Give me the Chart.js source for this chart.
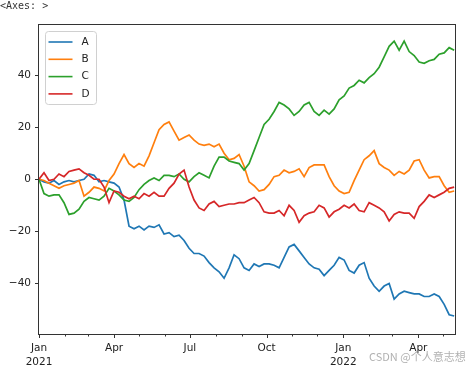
<!DOCTYPE html>
<html>
<head>
<meta charset="utf-8">
<script src="https://cdn.jsdelivr.net/npm/chart.js@4.4.1/dist/chart.umd.min.js"></script>
<style>
    body { margin: 0; background: #fff; }
    #wrap { position: relative; width: 474px; height: 368px; }
    #axesLabel { position: absolute; left: 0; top: 0; font: 10px "DejaVu Sans Mono", monospace; color: #333; white-space: pre; }
    #mark { position: absolute; left: 369px; top: 348px; font: 11px "Noto Sans CJK SC", sans-serif; color: rgba(150, 150, 150, 0.75); white-space: nowrap; }
</style>
</head>
<body>
<div id="wrap">
    <canvas id="walkChart" width="474" height="368"></canvas>
    <div id="axesLabel">&lt;Axes: &gt;</div>
    <div id="mark">CSDN @个人意志想</div>
</div>
<script>
// data, one value every 6 days from 2021-01-01
const seriesNames = ['A', 'B', 'C', 'D'];
const seriesColors = ['#1f77b4', '#ff7f0e', '#2ca02c', '#d62728'];

const seriesA = [
    0, -1, -1.5, -0.5, -2, -1, -0.5, -1, -0.5, 0,
    2, 1.5, -1, -0.5, -1, -1.5, -3, -8, -18, -19,
    -18, -19.5, -18, -18.5, -17.5, -21, -20.5, -22, -21.5, -23.5,
    -26.5, -28.5, -28.5, -29.5, -32, -34, -35.5, -38, -34, -29,
    -30.5, -34, -35, -32.5, -33.5, -32.5, -32.5, -33, -34, -30,
    -26, -25, -27.5, -30, -32.5, -34, -34.5, -37, -35, -33,
    -30, -31, -35, -36, -33, -32, -38, -41, -43, -41,
    -40, -46, -44, -43, -43.5, -44, -44, -45, -45, -44,
    -45, -48, -52, -52.5
];
const seriesB = [
    0, -0.5, -1.5, -2.5, -3.5, -2.5, -2, -1.5, -0.5, -6.5,
    -5, -3, -3.5, -4.5, -0.5, 2, 6, 9.5, 6, 4.5,
    6, 5, 9, 14, 19, 21, 22, 18.5, 15, 16,
    17, 15, 13.5, 13, 13.5, 12.5, 13.5, 10, 7.5, 8,
    9.5, 5, -1, -2.5, -4.5, -4, -2, 1, 1.5, 3.5,
    2.5, 3, 4, 1, 4.5, 5.5, 5.5, 5.5, 1, -2.5,
    -4.5, -5.5, -5, -0.5, 3.5, 7.5, 9, 11, 6, 4.5,
    3.5, 1.5, 3, 2, 3.5, 7, 7.5, 3.5, 0.5, 1,
    1, -2.5, -5, -4.5
];
const seriesC = [
    0, -5.5, -6.5, -6, -6, -9, -13.5, -13, -11.5, -8.5,
    -7, -7.5, -8, -6.5, -3.5, -4.5, -6, -8, -8.5, -7,
    -4, -2, -0.5, 0.5, -0.5, 1.5, 1.5, 1, 2, 0,
    -1, 1, 2.5, 1.5, 0.5, 5, 8.5, 8.5, 7, 6.5,
    6, 3.5, 6, 11, 16, 21, 23, 26, 29.5, 28.5,
    27, 24.5, 26, 28.5, 29.5, 26, 24.5, 26.5, 25, 27,
    30.5, 32, 35, 36, 38, 37, 39, 40.5, 43, 47,
    51, 53, 49.5, 53, 49, 47.5, 45, 44.5, 45.5, 46,
    48, 48.5, 50.5, 49.5
];
const seriesD = [
    0, 2.5, -0.5, 0, 2, 1, 3, 3.5, 4, 2.5,
    1.5, 0, 0, -3, -9, -4.5, -5, -6.5, -7.5, -6.5,
    -7.5, -5.5, -6.5, -5, -6.5, -6.5, -3.5, -1.5, 2, 3.5,
    -3, -8, -11, -12, -9.5, -8.5, -10.5, -10, -9.5, -9.5,
    -9, -9, -8, -7, -9, -12.5, -13, -13, -12, -14,
    -10, -12, -16.5, -14, -13, -12.5, -10, -11, -14.5, -12.5,
    -11.5, -10, -11, -9.5, -12, -12.5, -9, -10, -11, -12.5,
    -16, -13.5, -12.5, -13, -13, -15, -10.5, -8.5, -6, -7,
    -6, -5, -3.5, -3
];
const dayStep = 6;
const lastDay = 499;

// month ticks (days since 2021-01-01)
const majorTickDays = [0, 90, 181, 273, 365, 455];
const majorTickLabels = [['Jan', '2021'], 'Apr', 'Jul', 'Oct', ['Jan', '2022'], 'Apr'];
const minorTickDays = [31, 59, 120, 151, 212, 243, 304, 334, 396, 424, 485];
const yTickValues = [-40, -20, 0, 20, 40];

const allSeries = [seriesA, seriesB, seriesC, seriesD];

// خط و چوارچێوە و لیجێند
const framePlugin = {
    id: 'frameAndLegend',
    afterDraw(chart) {
        const ctx = chart.ctx;
        const area = chart.chartArea;
        const xs = chart.scales.x;
        const ys = chart.scales.y;
        ctx.save();
        ctx.strokeStyle = '#333';
        ctx.lineWidth = 1;
        ctx.strokeRect(area.left - 0.5, area.top - 0.5, area.right - area.left + 1, area.bottom - area.top + 1);

        ctx.beginPath();
        majorTickDays.forEach(d => {
            const px = Math.round(xs.getPixelForValue(d)) + 0.5;
            ctx.moveTo(px, area.bottom);
            ctx.lineTo(px, area.bottom + 4);
        });
        minorTickDays.forEach(d => {
            const px = Math.round(xs.getPixelForValue(d)) + 0.5;
            ctx.moveTo(px, area.bottom);
            ctx.lineTo(px, area.bottom + 2.5);
        });
        yTickValues.forEach(v => {
            const py = Math.round(ys.getPixelForValue(v)) + 0.5;
            ctx.moveTo(area.left - 4, py);
            ctx.lineTo(area.left, py);
        });
        ctx.stroke();

        // legend box
        const bx = area.left + 6, by = area.top + 6, bw = 51, bh = 73;
        ctx.fillStyle = 'rgba(255,255,255,0.8)';
        ctx.strokeStyle = '#d0d0d0';
        ctx.beginPath();
        ctx.roundRect(bx + 0.5, by + 0.5, bw, bh, 3);
        ctx.fill();
        ctx.stroke();
        ctx.font = '10.5px "DejaVu Sans"';
        ctx.textBaseline = 'middle';
        seriesNames.forEach((name, i) => {
            const ly = by + 11 + i * 17.3;
            ctx.strokeStyle = seriesColors[i];
            ctx.lineWidth = 1.6;
            ctx.beginPath();
            ctx.moveTo(bx + 3.5, ly);
            ctx.lineTo(bx + 27.5, ly);
            ctx.stroke();
            ctx.fillStyle = '#222';
            ctx.fillText(name, bx + 36.5, ly);
        });
        ctx.restore();
    }
};

document.addEventListener('DOMContentLoaded', function() {
    const datasets = allSeries.map((vals, i) => ({
        label: seriesNames[i],
        data: vals.map((v, j) => ({ x: j * dayStep, y: v })),
        borderColor: seriesColors[i],
        borderWidth: 1.7,
        pointRadius: 0,
        tension: 0,
        fill: false,
        order: 4 - i
    }));

    new Chart(document.getElementById('walkChart'), {
        type: 'line',
        data: { datasets: datasets },
        options: {
            responsive: false,
            animation: false,
            layout: { padding: { left: 0, right: 19, top: 25, bottom: 0 } },
            plugins: {
                legend: { display: false },
                tooltip: { enabled: false }
            },
            scales: {
                x: {
                    type: 'linear',
                    min: 0,
                    max: lastDay,
                    grid: { display: false, drawTicks: false },
                    border: { display: false },
                    afterBuildTicks: scale => {
                        scale.ticks = majorTickDays.map(d => ({ value: d }));
                    },
                    afterFit: scale => { scale.height = 34; },
                    ticks: {
                        autoSkip: false,
                        maxRotation: 0,
                        padding: 7,
                        color: '#222',
                        font: { family: 'DejaVu Sans', size: 10.5, lineHeight: 1.35 },
                        callback: function(value) {
                            const k = majorTickDays.indexOf(value);
                            return k >= 0 ? majorTickLabels[k] : '';
                        }
                    }
                },
                y: {
                    min: -59.4,
                    max: 59.2,
                    grid: { display: false, drawTicks: false },
                    border: { display: false },
                    afterBuildTicks: scale => {
                        scale.ticks = yTickValues.map(v => ({ value: v }));
                    },
                    afterFit: scale => { scale.width = 39; },
                    ticks: {
                        padding: 8,
                        color: '#222',
                        font: { family: 'DejaVu Sans', size: 10.5 },
                        callback: function(value) {
                            return value < 0 ? '\u2212' + Math.abs(value) : String(value);
                        }
                    }
                }
            }
        },
        plugins: [framePlugin]
    });
});
</script>
</body>
</html>
